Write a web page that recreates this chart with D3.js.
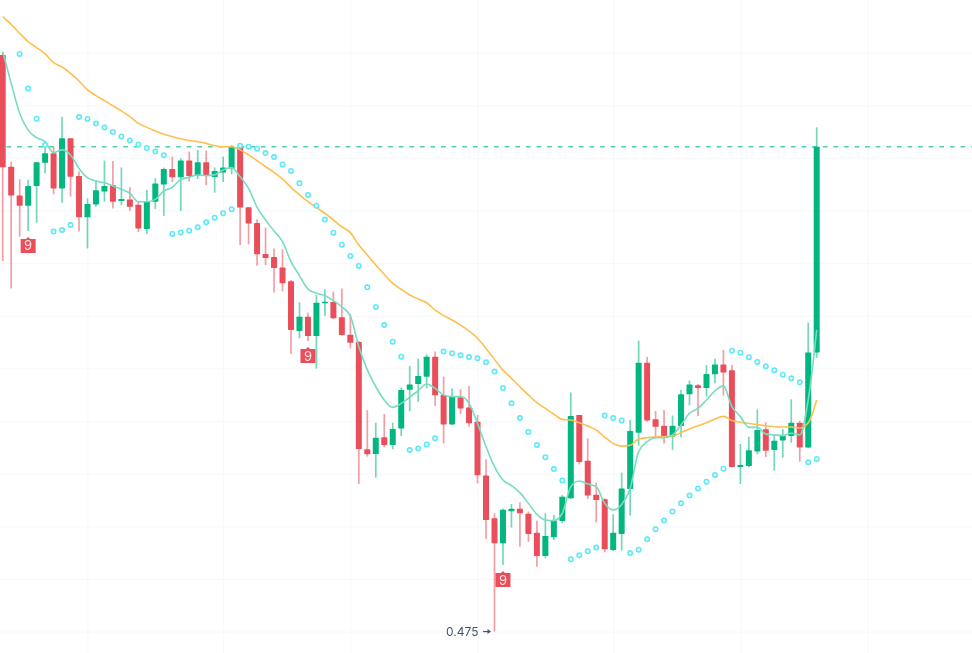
<!DOCTYPE html>
<html>
<head>
<meta charset="utf-8">
<script src="https://cdn.jsdelivr.net/npm/d3@7"></script>
<style>
  html, body { margin: 0; padding: 0; background: #fff; overflow: hidden; }
  svg { display: block; font-family: "Inter", "Noto Sans", sans-serif; filter: blur(0.35px); }
</style>
</head>
<body>
<svg id="chart" width="972" height="653"></svg>
<script>
const opens = [.7489,.6958,.6821,.6773,.6867,.6977,.7022,.6855,.7093,.6914,.6718,.6779,.6840,.6871,.6795,.6802,.6778,.6662,.6792,.6874,
  .6947,.6908,.6988,.6916,.6979,.6909,.6931,.6950,.7053,.6765,.6691,.6543,.6529,.6479,.6414,.6178,.6246,.6154,.6309,.6316,
  .6243,.6160,.6126,.5616,.5593,.5673,.5636,.5715,.5899,.5926,.5961,.6056,.5874,.5734,.5863,.5814,.5747,.5491,.5288,.5169,
  .5321,.5334,.5310,.5220,.5109,.5198,.5275,.5383,.5779,.5562,.5400,.5378,.5138,.5214,.5427,.5695,.6027,.5758,.5728,.5676,
  .5727,.5877,.5920,.5907,.5972,.6019,.5991,.5532,.5537,.5605,.5711,.5613,.5658,.5679,.5742,.5624,.6076];
const closes = [.6955,.6821,.6773,.6867,.6979,.7022,.6855,.7093,.6911,.6718,.6781,.6846,.6867,.6792,.6805,.6768,.6665,.6795,.6878,.6947,
  .6908,.6988,.6914,.6979,.6914,.6938,.6954,.7053,.6764,.6688,.6542,.6524,.6477,.6404,.6182,.6246,.6154,.6312,.6317,.6238,
  .6159,.6122,.5617,.5592,.5671,.5636,.5712,.5898,.5924,.5964,.6056,.5872,.5734,.5866,.5810,.5739,.5492,.5280,.5169,.5329,
  .5334,.5312,.5214,.5109,.5204,.5277,.5391,.5774,.5556,.5396,.5375,.5141,.5220,.5430,.5703,.6027,.5753,.5723,.5676,.5728,
  .5877,.5924,.5907,.5973,.6019,.5981,.5532,.5541,.5611,.5708,.5609,.5657,.5679,.5742,.5624,.6076,.7053];
const highs = [.7497,.6982,.6898,.6895,.6979,.7053,.7053,.7196,.7093,.6935,.6808,.6892,.6987,.6985,.6955,.6860,.6792,.6848,.6903,.6954,
  .7006,.6998,.7030,.7038,.7034,.6955,.7006,.7061,.7061,.6765,.6708,.6669,.6570,.6566,.6420,.6314,.6265,.6349,.6376,.6365,
  .6380,.6257,.6130,.5802,.5742,.5784,.5742,.5910,.6012,.6046,.6067,.6080,.5961,.5905,.5901,.5917,.5779,.5568,.5312,.5335,
  .5356,.5364,.5320,.5277,.5312,.5304,.5399,.5886,.5779,.5668,.5457,.5383,.5307,.5505,.5755,.6132,.6056,.5798,.5803,.5776,
  .5898,.5942,.5926,.6016,.6046,.6088,.6016,.5641,.5676,.5806,.5744,.5684,.5712,.5853,.5752,.6217,.7145];
const lows = [.6510,.6380,.6626,.6653,.6692,.6927,.6827,.6787,.6816,.6650,.6570,.6768,.6792,.6760,.6776,.6748,.6648,.6639,.6757,.6724,
  .6886,.6748,.6887,.6900,.6871,.6835,.6886,.6922,.6586,.6589,.6488,.6491,.6361,.6366,.6069,.6143,.6130,.5999,.6249,.6235,
  .6156,.6095,.5451,.5581,.5481,.5625,.5616,.5679,.5796,.5841,.5905,.5823,.5644,.5731,.5783,.5723,.5454,.5190,.4750,.5066,
  .5244,.5153,.5176,.5058,.5098,.5185,.5264,.5380,.5544,.5380,.5269,.5126,.5133,.5134,.5301,.5633,.5747,.5668,.5643,.5613,
  .5673,.5825,.5774,.5866,.5929,.5871,.5529,.5451,.5530,.5592,.5579,.5514,.5576,.5647,.5557,.5620,.6051];
const fastMa = [.7505,.7354,.7212,.7132,.7096,.7077,.7025,.7038,.7014,.6950,.6906,.6890,.6882,.6867,.6851,.6832,.6792,.6792,.6803,.6843,
  .6860,.6898,.6908,.6919,.6916,.6920,.6943,.6954,.6911,.6855,.6765,.6705,.6653,.6602,.6507,.6441,.6377,.6357,.6346,.6322,
  .6293,.6249,.6103,.5993,.5913,.5850,.5815,.5834,.5863,.5894,.5926,.5905,.5874,.5866,.5866,.5834,.5739,.5628,.5533,.5470,
  .5443,.5410,.5359,.5307,.5280,.5277,.5312,.5438,.5465,.5451,.5438,.5359,.5328,.5354,.5430,.5605,.5652,.5671,.5671,.5684,
  .5731,.5787,.5810,.5850,.5893,.5917,.5818,.5771,.5720,.5720,.5688,.5684,.5681,.5692,.5684,.5850,.6183];
const slowMa = [.7671,.7634,.7592,.7552,.7524,.7494,.7452,.7432,.7402,.7365,.7323,.7296,.7272,.7248,.7223,.7196,.7164,.7145,.7128,.7112,
  .7101,.7091,.7083,.7077,.7069,.7058,.7053,.7053,.7038,.7014,.6987,.6958,.6931,.6900,.6860,.6824,.6792,.6764,.6737,.6705,
  .6673,.6645,.6586,.6539,.6491,.6447,.6404,.6376,.6349,.6330,.6312,.6277,.6251,.6230,.6206,.6178,.6143,.6095,.6043,.5992,
  .5953,.5913,.5874,.5837,.5810,.5783,.5758,.5755,.5742,.5726,.5707,.5673,.5644,.5631,.5635,.5665,.5671,.5674,.5676,.5679,
  .5695,.5712,.5728,.5742,.5760,.5772,.5753,.5744,.5738,.5733,.5728,.5723,.5722,.5722,.5717,.5742,.5850];
const sar = [null,null,.7494,.7330,.7186,.7061,.6650,.6658,.6681,.7194,.7185,.7163,.7144,.7123,.7102,.7083,.7064,.7047,.7030,.7012,
  .6639,.6646,.6654,.6670,.6694,.6716,.6737,.6756,.7058,.7053,.7044,.7023,.7004,.6969,.6938,.6879,.6824,.6773,.6707,.6645,
  .6588,.6534,.6487,.6385,.6292,.6206,.6127,.6056,.5612,.5620,.5639,.5668,.6080,.6072,.6062,.6054,.6048,.6029,.5985,.5907,
  .5834,.5764,.5698,.5636,.5578,.5522,.5468,.5093,.5112,.5131,.5149,.5776,.5764,.5753,.5123,.5139,.5188,.5236,.5278,.5320,
  .5359,.5396,.5430,.5462,.5494,.5524,.6084,.6075,.6053,.6031,.6010,.5991,.5970,.5953,.5934,.5554,.5570];
const seqBadges = [3, 36, 59];
const seqLabel = "9";
const lowIndex = 58;
const lowLabel = "0.475";
const gridIndexes = [10, 26, 41, 56, 72, 87, 102];
const gridPrices = d3.range(0.475, 0.76, 0.025);

const width = 972, height = 653;
const UP = "#02b77f", DOWN = "#ea4e5b";

const x = d3.scaleLinear().domain([0, 96]).range([2.7, 816.7]);
const y = d3.scaleLinear().domain([0.464825, 0.775]).range([height, 0]);

const svg = d3.select("#chart");

// grid
const gridX = svg.append("g").attr("transform", `translate(0,${height})`)
  .call(d3.axisBottom(x).tickValues(gridIndexes).tickSize(-height).tickFormat(""));
const gridY = svg.append("g")
  .call(d3.axisLeft(y).tickValues(gridPrices).tickSize(-width).tickFormat(""));
for (const g of [gridX, gridY]) {
  g.select(".domain").remove();
  g.selectAll("line").attr("stroke", "#f7f8fa");
}

// last price line
svg.append("line")
  .attr("x1", 0).attr("x2", width)
  .attr("y1", y(closes[96])).attr("y2", y(closes[96]))
  .attr("stroke", "#4fd0ab").attr("stroke-width", 1.6)
  .attr("stroke-dasharray", "4.7,5.9").attr("stroke-dashoffset", 4.1);

const idx = d3.range(opens.length);
const color = (i) => closes[i] >= opens[i] ? UP : DOWN;

// wicks
svg.append("g").selectAll("line").data(idx).join("line")
  .attr("x1", x).attr("x2", x)
  .attr("y1", (i) => y(highs[i])).attr("y2", (i) => y(lows[i]))
  .attr("stroke", color).attr("stroke-width", 1.7).attr("stroke-opacity", 0.55);

// bodies
svg.append("g").selectAll("rect").data(idx).join("rect")
  .attr("x", (i) => x(i) - 3).attr("width", 6)
  .attr("y", (i) => y(Math.max(opens[i], closes[i])))
  .attr("height", (i) => Math.max(1.5, Math.abs(y(opens[i]) - y(closes[i]))))
  .attr("rx", 0.6)
  .attr("fill", color);

// moving averages
const line = d3.line().x((d, i) => x(i)).y((d) => y(d)).curve(d3.curveMonotoneX);
svg.append("path").attr("d", line(slowMa)).attr("fill", "none")
  .attr("stroke", "#ffbf4f").attr("stroke-width", 1.6);
svg.append("path").attr("d", line(fastMa)).attr("fill", "none")
  .attr("stroke", "#76dcc2").attr("stroke-width", 1.6);

// parabolic sar
svg.append("g").selectAll("circle").data(idx.filter((i) => sar[i] !== null)).join("circle")
  .attr("cx", x).attr("cy", (i) => y(sar[i])).attr("r", 2.2)
  .attr("fill", "#fff").attr("stroke", "#5ce9f8").attr("stroke-width", 1.6);

// sequence badges
const badge = svg.append("g").selectAll("g").data(seqBadges).join("g")
  .attr("transform", (i) => `translate(${x(i)},${y(lows[i]) + 14.5})`);
badge.append("path")
  .attr("d", "M-7.5,-6.5H-2L0,-8.5L2,-6.5H7.5V7.5H-7.5Z")
  .attr("fill", "#ea4e5b");
badge.append("text")
  .attr("text-anchor", "middle").attr("y", 5)
  .attr("font-size", 13).attr("fill", "#fde4e6")
  .text(seqLabel);

// lowest price label
svg.append("text")
  .attr("x", x(lowIndex) - 16).attr("y", y(lows[lowIndex]) + 4)
  .attr("text-anchor", "end").attr("font-size", 12).attr("fill", "#44546f")
  .text(lowLabel);
svg.append("path")
  .attr("d", `M${x(lowIndex) - 11.5},${y(lows[lowIndex])}h7`)
  .attr("fill", "none").attr("stroke", "#44546f").attr("stroke-width", 1.2);
svg.append("path")
  .attr("d", `M${x(lowIndex) - 7},${y(lows[lowIndex]) - 2.5}l3.5,2.5l-3.5,2.5Z`)
  .attr("fill", "#44546f");
</script>
</body>
</html>
